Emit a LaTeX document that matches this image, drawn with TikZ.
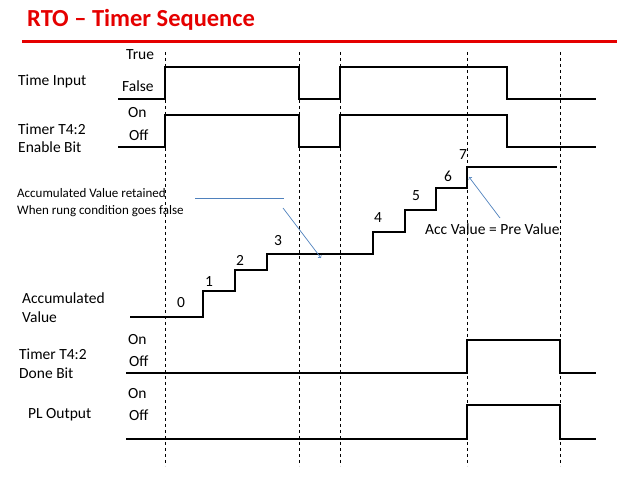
\documentclass[tikz,border=0pt]{standalone}
\usepackage{fontspec}
\setmainfont{Carlito}
\definecolor{ablue}{RGB}{79,129,189}
\begin{document}
\begin{tikzpicture}[x=1pt,y=-1pt,
  sig/.style={line width=1.6pt},
  vdash/.style={dashed,line width=0.8pt},
  lab/.style={anchor=west,font=\fontsize{15.5}{18}\selectfont,inner sep=0},
  num/.style={font=\fontsize{15.5}{18}\selectfont,inner sep=0},
  note/.style={anchor=west,font=\fontsize{13}{15}\selectfont,inner sep=0},
  bline/.style={draw=ablue,line width=0.7pt}]
\useasboundingbox (0,0) rectangle (638,478);
\node[anchor=west,inner sep=0,text=red!90!black,font=\fontsize{24.5}{28}\bfseries] (title) at (27,20) {RTO – Timer Sequence};
\draw[red!90!black,line width=3pt] (22,42) -- (617,42);
\foreach \x in {165,299,340,467,560} \draw[vdash] (\x,52) -- (\x,466);
% signals
\draw[sig] (118,99) -- (165,99) -- (165,67) -- (299,67) -- (299,99) -- (340,99) -- (340,67) -- (507,67) -- (507,99) -- (596,99);
\draw[sig] (118,147) -- (165,147) -- (165,115) -- (299,115) -- (299,147) -- (340,147) -- (340,115) -- (507,115) -- (507,147) -- (596,147);
\draw[sig] (130,317) -- (203,317) -- (203,291) -- (235,291) -- (235,270) -- (267,270) -- (267,254) -- (373,254) -- (373,232) -- (405,232) -- (405,210) -- (436,210) -- (436,188) -- (467,188) -- (467,167) -- (557,167);
\draw[sig] (126,373) -- (467,373) -- (467,340) -- (560,340) -- (560,373) -- (596,373);
\draw[sig] (126,439) -- (467,439) -- (467,405) -- (560,405) -- (560,439) -- (596,439);
% labels
\node[lab] (ti) at (18,81) {Time Input};
\node[lab] (tr) at (126,55) {True};
\node[lab] (fa) at (122,86) {False};
\node[lab] (e1) at (18,129) {Timer T4:2};
\node[lab] (e2) at (18,147) {Enable Bit};
\node[lab] (eon) at (128,113) {On};
\node[lab] (eoff) at (129,135) {Off};
\node[lab] (a1) at (22,298) {Accumulated};
\node[lab] (a2) at (22,317) {Value};
\node[lab] (d1) at (19,354) {Timer T4:2};
\node[lab] (d2) at (19,373) {Done Bit};
\node[lab] (don) at (128,340) {On};
\node[lab] (doff) at (129,361) {Off};
\node[lab] (pl) at (28,415) {PL Output};
\node[lab] (pon) at (128,394) {On};
\node[lab] (poff) at (129,415) {Off};
\node[num] (n0) at (181,303) {0};
\node[num] (n1) at (209,282) {1};
\node[num] (n2) at (240,260) {2};
\node[num] (n3) at (278,241) {3};
\node[num] (n4) at (378,218) {4};
\node[num] (n5) at (416,196) {5};
\node[num] (n6) at (448,176) {6};
\node[num] (n7) at (463,155) {7};
\node[note] (r1) at (17,193) {Accumulated Value retained};
\node[note] (r2) at (17,211) {When rung condition goes false};
\node[lab] (acc) at (425,229) {Acc Value = Pre Value};
\coordinate (b1) at (195,198);
\coordinate (b2) at (284,198);
\coordinate (b3) at (283,208);
\coordinate (b4) at (321,258);
\coordinate (c1) at (500,218);
\coordinate (c2) at (469,177);
\draw[bline] (b1) -- (b2);
\draw[bline,->] (b3) -- (b4);
\draw[bline,->] (c1) -- (c2);
\end{tikzpicture}
\end{document}
